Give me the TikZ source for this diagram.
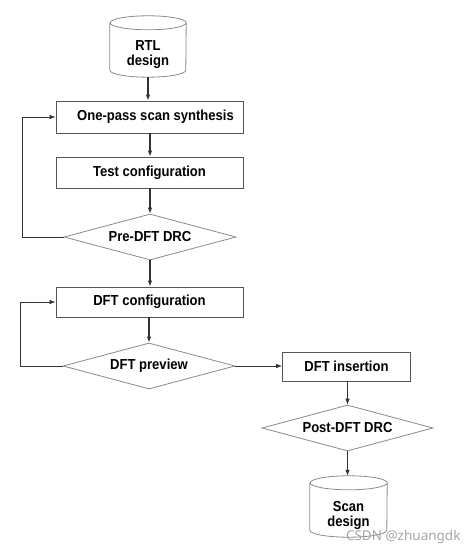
\documentclass[tikz,border=0pt]{standalone}
\usepackage{fontspec}
\setmainfont{Liberation Sans}[FakeStretch=0.9]
\newfontfamily\wmfont{Noto Sans}
\usetikzlibrary{arrows.meta,shapes.geometric,calc}
\definecolor{boxline}{HTML}{555555}
\definecolor{dialine}{HTML}{8A8A8A}
\definecolor{arrowc}{HTML}{333333}
\tikzset{
  every node/.style={font=\fontsize{14.5bp}{15bp}\selectfont\bfseries, text=black},
  stepbox/.style={draw=boxline, line width=0.8bp, fill=white, rectangle, inner sep=0pt},
  decision/.style={draw=dialine, line width=0.8bp, fill=white, diamond, aspect=3.7, inner sep=0pt},
  cylbox/.style={inner sep=0pt},
  cylline/.style={draw=dialine, line width=0.8bp},
  flow/.style={draw=arrowc, line width=1.1bp, -{Latex[length=6bp,width=4.5bp]}},
  loop/.style={draw=arrowc, line width=0.7bp, -{Latex[length=6bp,width=4.5bp]}},
}
\begin{document}
\begin{tikzpicture}[x=1bp,y=-1bp]
\useasboundingbox (0,0) rectangle (474,551);
% RTL design cylinder
\node[cylbox, minimum width=76bp, minimum height=61bp] (rtl) at (148,46.5) {};
\draw[cylline] ($(rtl.north west)+(0,7)$) -- ($(rtl.south west)+(0,-7)$)
  arc[start angle=180, end angle=360, x radius=38bp, y radius=7bp]
  -- ($(rtl.north east)+(0,7)$)
  arc[start angle=0, end angle=180, x radius=38bp, y radius=7bp]
  arc[start angle=180, end angle=360, x radius=38bp, y radius=7bp];
\node[align=center] (rtltext) at (148,55) {RTL\\design};
% boxes
\node[stepbox, minimum width=187bp, minimum height=32bp] (one) at (149.5,117) {\hspace*{12bp}One-pass scan synthesis};
\node[stepbox, minimum width=187bp, minimum height=31bp] (test) at (149.5,172.5) {Test configuration};
\node[decision, minimum width=172bp, minimum height=46bp] (pre) at (150,237) {Pre-DFT DRC};
\node[stepbox, minimum width=187bp, minimum height=30bp] (dftc) at (149.5,302) {DFT configuration};
\node[decision, minimum width=172bp, minimum height=46bp] (prev) at (149,366) {DFT preview};
\node[stepbox, minimum width=128bp, minimum height=29bp] (ins) at (346.5,366.5) {DFT insertion};
\node[decision, minimum width=171bp, minimum height=46bp] (post) at (347.5,428) {Post-DFT DRC};
% Scan design cylinder
\node[cylbox, minimum width=77bp, minimum height=61bp] (scan) at (348.5,506.5) {};
\draw[cylline] ($(scan.north west)+(0,7)$) -- ($(scan.south west)+(0,-7)$)
  arc[start angle=180, end angle=360, x radius=38.5bp, y radius=7bp]
  -- ($(scan.north east)+(0,7)$)
  arc[start angle=0, end angle=180, x radius=38.5bp, y radius=7bp]
  arc[start angle=180, end angle=360, x radius=38.5bp, y radius=7bp];
\node[align=center] (scantext) at (348.5,515) {Scan\\design};
% loop corners
\coordinate (c1) at (22,237);
\coordinate (c2) at (20,366);
% connectors
\draw[flow] (rtl.south) -- (rtl.south |- one.north);
\draw[flow] (one.south -| pre.north) -- (test.north -| pre.north);
\draw[flow] (test.south -| pre.north) -- (pre.north);
\draw[flow] (pre.south) -- (pre.south |- dftc.north);
\draw[flow] (dftc.south -| prev.north) -- (prev.north);
\draw[loop] (pre.west) -- (c1) |- (one.west);
\draw[loop] (prev.west) -- (c2) |- (dftc.west);
\draw[loop] (prev.east) -- (prev.east -| ins.west);
\draw[loop] (ins.south -| post.north) -- (post.north);
\draw[loop] (post.south) -- (post.south |- scan.north);
% watermark
\node[font=\wmfont\fontsize{13.5bp}{15bp}\selectfont, text=black!35, anchor=east] (wm) at (464,537) {CSDN @zhuangdk};
\end{tikzpicture}
\end{document}
